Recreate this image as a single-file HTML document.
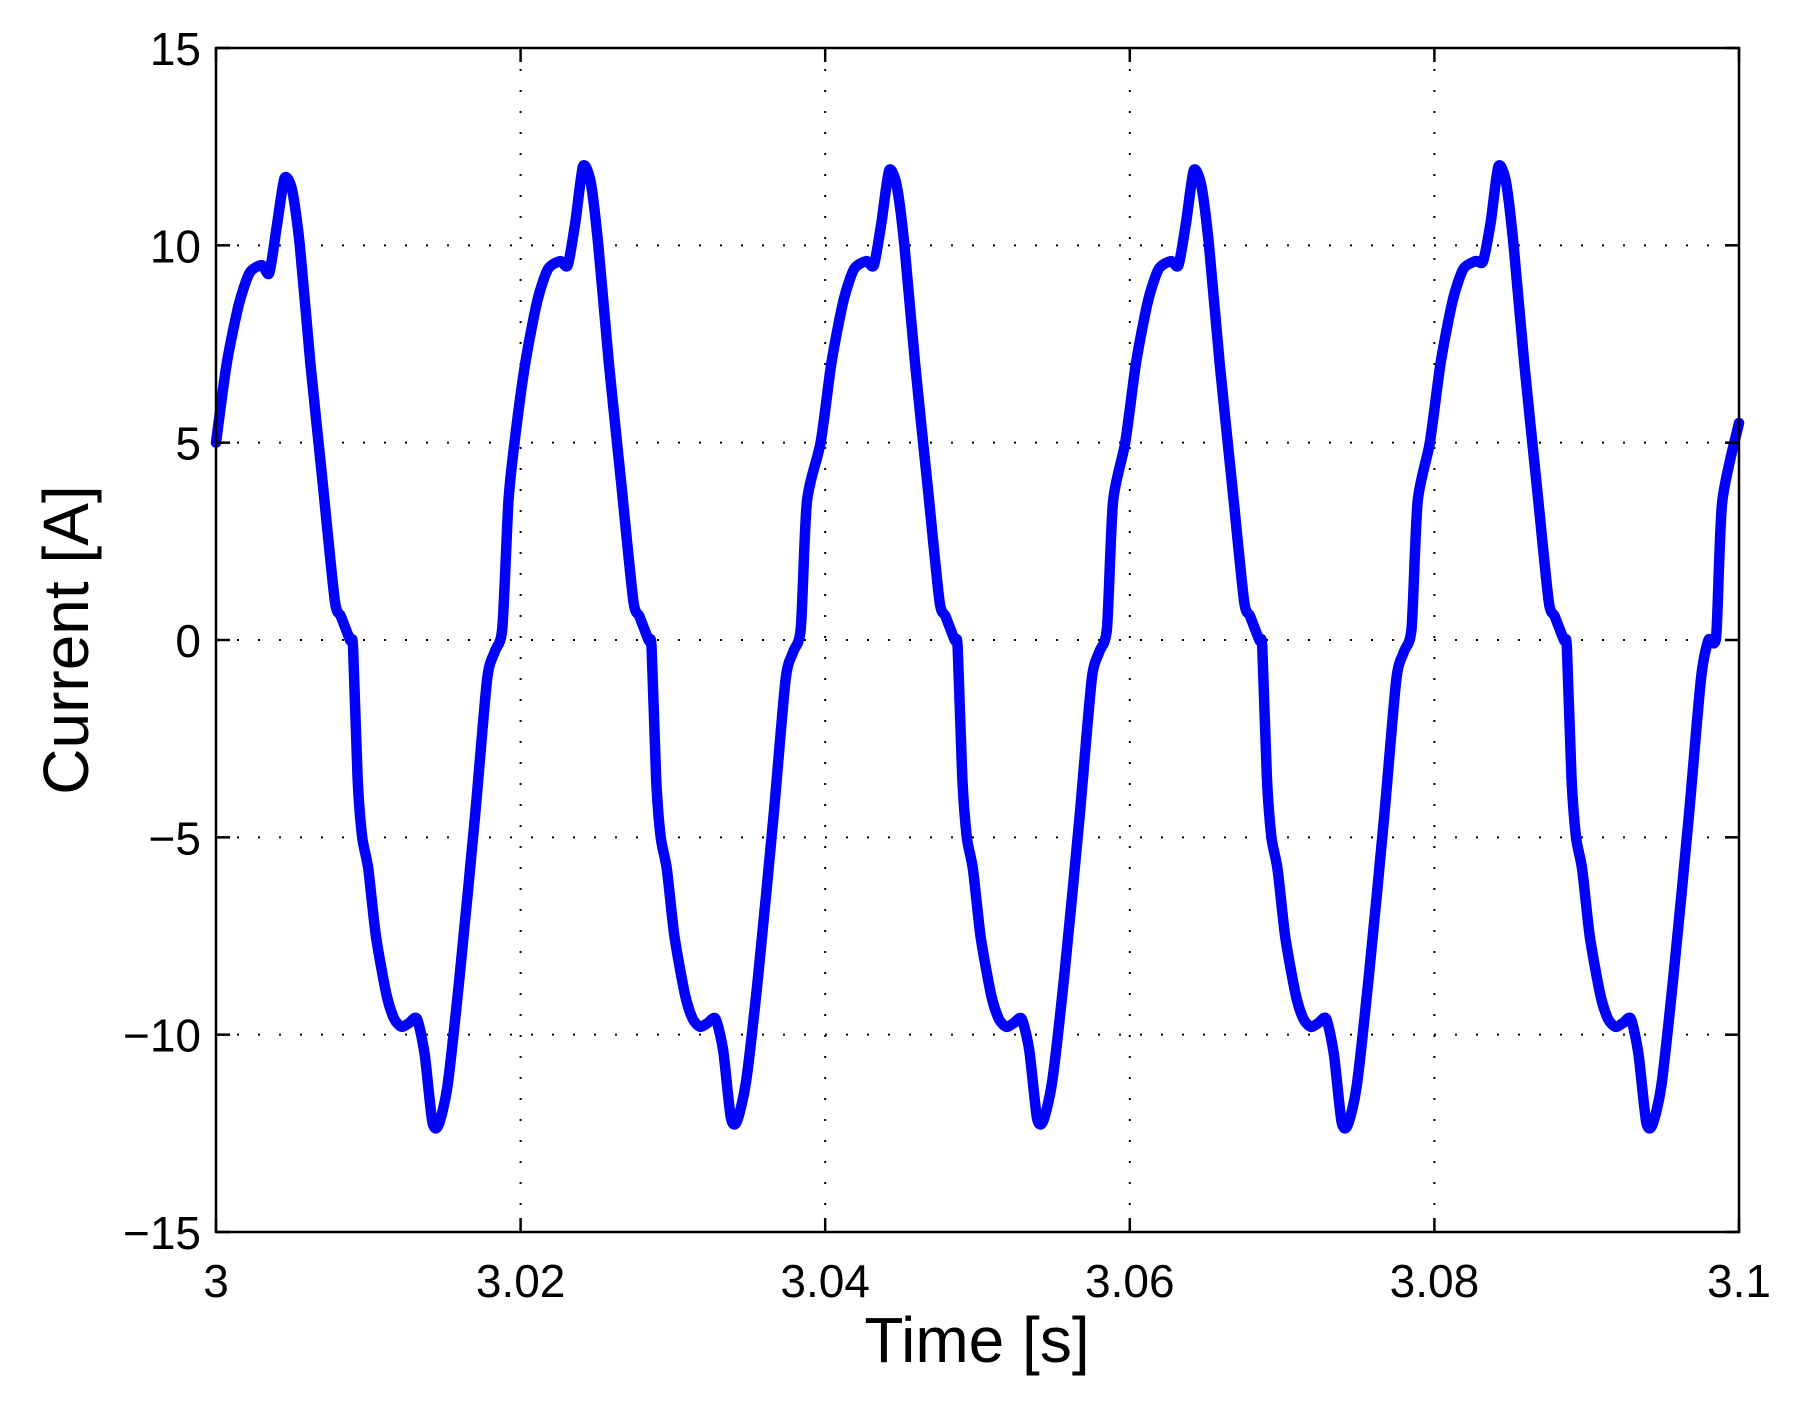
<!DOCTYPE html>
<html><head><meta charset="utf-8"><style>
html,body{margin:0;padding:0;background:#fff;}
svg{display:block;}
text{font-family:"Liberation Sans",sans-serif;fill:#000;}
</style></head><body>
<svg id="chart" width="1794" height="1402" viewBox="0 0 1794 1402" xmlns="http://www.w3.org/2000/svg">
<rect width="1794" height="1402" fill="#fff"/>
<g id="grid"></g>
<g id="series"></g>
<rect x="216" y="48" width="1523" height="1184" fill="none" stroke="#000" stroke-width="2.5"/>
<g id="ticks"></g>
<text x="977" y="1362" font-size="64" text-anchor="middle">Time [s]</text>
<text x="0" y="0" font-size="64" text-anchor="middle" transform="translate(88,640) rotate(-90)">Current [A]</text>
</svg>
<script>
const xTicks = [3, 3.02, 3.04, 3.06, 3.08, 3.1];
const xTickLabels = ["3", "3.02", "3.04", "3.06", "3.08", "3.1"];
const yTicks = [-15, -10, -5, 0, 5, 10, 15];
const yTickLabels = ["\u221215", "\u221210", "\u22125", "0", "5", "10", "15"];
// time offsets (ms) within one 20 ms cycle
const cycleOffsetsMs = [0,0.7,1.5,2.2,3.0,3.5,4.0,4.5,5.0,5.5,6.2,7.0,7.8,8.2,8.8,9.0,9.3,9.6,10.0,10.5,11.2,11.7,12.2,12.7,13.2,13.7,14.2,14.6,15.2,16.0,17.0,17.8,18.3,18.8,19.2];
const cycleStartsMs = [0, 19.6, 39.7, 59.7, 79.7];
const cycle1 = [5,7,8.5,9.3,9.5,9.3,10.5,11.7,11.4,10,7,4,1,0.6,0,-0.2,-3.5,-5,-5.8,-7.5,-9,-9.6,-9.8,-9.7,-9.6,-10.5,-12.2,-12.3,-11.3,-8.5,-4.5,-1,-0.3,0.3,3.5];
const cycle2 = [5,7,8.6,9.4,9.6,9.5,10.6,12.0,11.6,10,7,4,1,0.6,0,-0.2,-3.5,-5,-5.8,-7.5,-9,-9.6,-9.8,-9.7,-9.6,-10.4,-12.1,-12.2,-11.2,-8.5,-4.5,-1,-0.3,0.3,3.5];
const cycle3 = [5,7,8.6,9.4,9.6,9.5,10.6,11.9,11.5,10,7,4,1,0.6,0,-0.2,-3.5,-5,-5.8,-7.5,-9,-9.6,-9.8,-9.7,-9.6,-10.4,-12.1,-12.2,-11.2,-8.5,-4.5,-1,-0.3,0.3,3.5];
const cycle4 = [5,7,8.6,9.4,9.6,9.5,10.6,11.9,11.5,10,7,4,1,0.6,0,-0.2,-3.5,-5,-5.8,-7.5,-9,-9.6,-9.8,-9.7,-9.6,-10.5,-12.2,-12.3,-11.3,-8.5,-4.5,-1,-0.3,0.3,3.5];
const cycle5 = [5,7,8.6,9.4,9.6,9.6,10.6,12.0,11.6,10,7,4,1,0.6,0,-0.2,-3.5,-5,-5.8,-7.5,-9,-9.6,-9.8,-9.7,-9.6,-10.5,-12.2,-12.3,-11.3,-8.5,-4.5,-1,0,0.1,3.5];
const endPointMs = [100];
const endPointVal = [5.5];

const NS = "http://www.w3.org/2000/svg";
const L = 216, R = 1739, T = 48, B = 1232;
const xs = t => L + (t - 3) / 0.1 * (R - L);
const ys = v => B - (v + 15) / 30 * (B - T);

const grid = document.getElementById('grid');
const ticks = document.getElementById('ticks');
xTicks.forEach((t, i) => {
  const x = xs(t);
  if (i > 0 && i < xTicks.length - 1) {
    const g = document.createElementNS(NS, 'line');
    
    
    g.setAttribute('x1', x); g.setAttribute('x2', x); g.setAttribute('y1', T); g.setAttribute('y2', B);
    g.setAttribute('stroke', '#000'); g.setAttribute('stroke-width', '2'); g.setAttribute('stroke-dasharray', '2 19');
    grid.appendChild(g);
  }
  [[B, B - 14], [T, T + 14]].forEach(([a, b]) => {
    const tk = document.createElementNS(NS, 'line');
    
    
    tk.setAttribute('x1', x); tk.setAttribute('x2', x); tk.setAttribute('y1', a); tk.setAttribute('y2', b);
    tk.setAttribute('stroke', '#000'); tk.setAttribute('stroke-width', '2.5');
    ticks.appendChild(tk);
  });
  const lb = document.createElementNS(NS, 'text');
  
  
  lb.setAttribute('x', x); lb.setAttribute('y', 1297);
  lb.setAttribute('font-size', '46'); lb.setAttribute('text-anchor', 'middle');
  lb.textContent = xTickLabels[i];
  ticks.appendChild(lb);
});
yTicks.forEach((v, i) => {
  const y = ys(v);
  if (i > 0 && i < yTicks.length - 1) {
    const g = document.createElementNS(NS, 'line');
    
    
    g.setAttribute('x1', L); g.setAttribute('x2', R); g.setAttribute('y1', y); g.setAttribute('y2', y);
    g.setAttribute('stroke', '#000'); g.setAttribute('stroke-width', '2'); g.setAttribute('stroke-dasharray', '2 19');
    grid.appendChild(g);
  }
  [[L, L + 14], [R, R - 14]].forEach(([a, b]) => {
    const tk = document.createElementNS(NS, 'line');
    
    
    tk.setAttribute('x1', a); tk.setAttribute('x2', b); tk.setAttribute('y1', y); tk.setAttribute('y2', y);
    tk.setAttribute('stroke', '#000'); tk.setAttribute('stroke-width', '2.5');
    ticks.appendChild(tk);
  });
  const lb = document.createElementNS(NS, 'text');
  
  
  lb.setAttribute('x', 201); lb.setAttribute('y', y + 17);
  lb.setAttribute('font-size', '46'); lb.setAttribute('text-anchor', 'end');
  lb.textContent = yTickLabels[i];
  ticks.appendChild(lb);
});

const cycles = [cycle1, cycle2, cycle3, cycle4, cycle5];
const pts = [];
cycles.forEach((c, ci) => {
  c.forEach((v, k) => pts.push([3 + (cycleStartsMs[ci] + cycleOffsetsMs[k]) / 1000, v]));
});
endPointMs.forEach((m, k) => pts.push([3 + m / 1000, endPointVal[k]]));
const P = pts.map(p => [xs(p[0]), ys(p[1])]);
let d = 'M' + P[0][0].toFixed(1) + ' ' + P[0][1].toFixed(1);
for (let k = 0; k < P.length - 1; k++) {
  const p0 = P[Math.max(0, k - 1)], p1 = P[k], p2 = P[k + 1], p3 = P[Math.min(P.length - 1, k + 2)];
  const s = 0.12;
  const c1 = [p1[0] + (p2[0] - p0[0]) * s, p1[1] + (p2[1] - p0[1]) * s];
  const c2 = [p2[0] - (p3[0] - p1[0]) * s, p2[1] - (p3[1] - p1[1]) * s];
  d += ' C' + c1[0].toFixed(1) + ' ' + c1[1].toFixed(1) + ' ' + c2[0].toFixed(1) + ' ' + c2[1].toFixed(1) + ' ' + p2[0].toFixed(1) + ' ' + p2[1].toFixed(1);
}
const path = document.createElementNS(NS, 'path');


path.setAttribute('d', d);
path.setAttribute('fill', 'none'); path.setAttribute('stroke', '#0000ff');
path.setAttribute('stroke-width', '10.5'); path.setAttribute('stroke-linejoin', 'round'); path.setAttribute('stroke-linecap', 'round');
document.getElementById('series').appendChild(path);
</script>
</body></html>
